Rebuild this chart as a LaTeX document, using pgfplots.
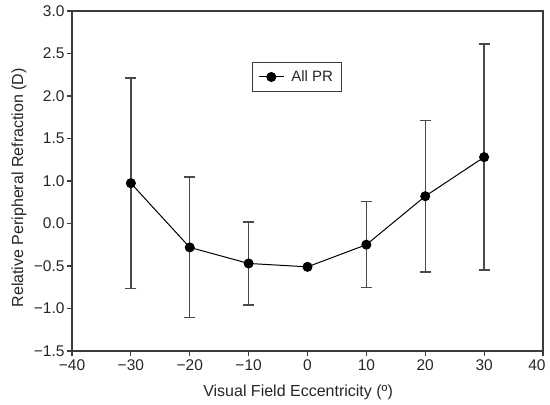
\documentclass[border=0pt]{standalone}
\usepackage{fontspec}
\setmainfont{Liberation Sans}
\usepackage{pgfplots}
\pgfplotsset{compat=1.18}
\definecolor{axgray}{HTML}{3C3C3C}
\definecolor{bargray}{HTML}{4A4A4A}
\begin{document}
\begin{tikzpicture}[x=1pt,y=1pt]
\begin{axis}[
    at={(0pt,0pt)}, anchor=south west,
    scale only axis,
    width=471pt, height=340pt,
    xmin=-40, xmax=40,
    ymin=-1.5, ymax=2.5,
    xtick={-40,-30,-20,-10,0,10,20,30,40},
    xticklabels={−40,−30,−20,−10,0,10,20,30,\hspace*{-12pt}40},
    ytick={-1.5,-1,-0.5,0,0.5,1,1.5,2,2.5},
    yticklabels={−1.5,−1.0,−0.5,0.0,1.0,1.5,2.0,2.5,3.0},
    xtick pos=bottom, ytick pos=left,
    tick align=outside,
    major tick length=5pt,
    axis line style={axgray, line width=1.1pt},
    every tick/.style={axgray, line width=1.1pt},
    tick label style={font=\fontsize{15.5}{15.5}\selectfont, text=black!85},
    yticklabel style={xshift=1pt},
    xlabel={Visual Field Eccentricity (º)},
    ylabel={Relative Peripheral Refraction (D)},
    every axis x label/.style={at={(axis description cs:0.48,0)}, yshift=-41pt, anchor=center,
        font=\fontsize{16}{16}\selectfont, text=black!85},
    every axis y label/.style={at={(axis description cs:0,0.48)}, xshift=-53pt, rotate=90, anchor=center,
        font=\fontsize{16}{16}\selectfont, text=black!85},
    legend style={at={(axis description cs:0.477,0.806)}, anchor=center,
        draw=axgray, line width=0.8pt, inner xsep=6pt, inner ysep=6pt,
        font=\fontsize{15}{15}\selectfont, text=black!85},
    legend image code/.code={
        \draw[mark repeat=2, mark phase=2, #1] plot coordinates {(0pt,0pt) (12.5pt,0pt) (25pt,0pt)};
    },
]
\addplot[black, line width=1pt, mark=*, mark size=4.5pt,
    mark options={fill=black, draw=black},
    error bars/.cd, y dir=both, y explicit,
    error bar style={bargray, line width=1.4pt},
    error mark options={bargray, rotate=90, mark size=5.5pt, line width=1.4pt}]
    coordinates {
    (-30, 0.474) +- (0, 1.239)
    (-20,-0.281) +- (0, 0.826)
    (-10,-0.470) +- (0, 0.490)
    (0,  -0.510)
    (10, -0.249) +- (0, 0.505)
    (20,  0.321) +- (0, 0.891)
    (30,  0.781) +- (0, 1.330)
    };
\addlegendentry{\hspace{5pt}All PR\hspace{4pt}}
\end{axis}
\pgfresetboundingbox
\path (-72pt,-54pt) rectangle (478pt,351pt);
\end{tikzpicture}
\end{document}
